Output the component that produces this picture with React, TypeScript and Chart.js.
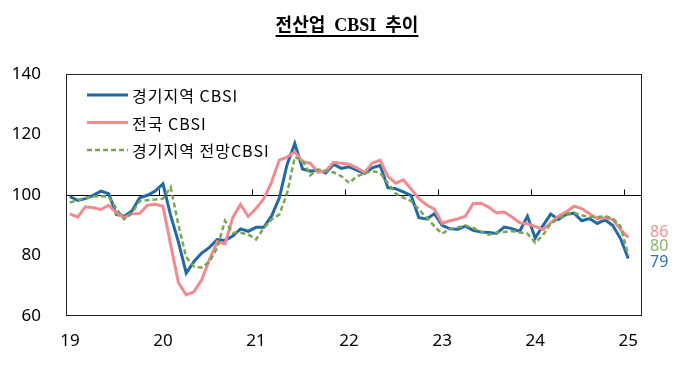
import React, { useEffect, useRef } from "react";
import { Chart, registerables } from "chart.js";

Chart.register(...registerables);

// Year tick labels (one every 12 months, Jan 2019 = index 0)
const yearLabels = ["19", "20", "21", "22", "23", "24", "25"];

// Monthly values, Jan 2019 .. Jan 2025
const gyeonggiCBSI = [
  99.5, 98.2, 98.8, 99.9, 101.3, 100.4, 93.6, 93.0, 94.7, 99.1, 99.9, 101.3,
  103.7, 93.2, 84.4, 74.2, 78.0, 80.8, 82.7, 85.3, 85.0, 86.4, 88.8, 88.0,
  89.3, 89.3, 93.0, 99.0, 110.0, 117.0, 108.6, 107.9, 108.2, 107.3, 110.2, 108.8,
  109.3, 108.2, 107.1, 109.0, 109.8, 102.4, 102.1, 101.0, 99.8, 92.5, 92.1, 93.8,
  90.0, 88.8, 88.7, 89.7, 88.3, 87.8, 87.6, 87.3, 89.4, 88.9, 88.0, 93.0,
  85.8, 89.9, 93.7, 91.9, 93.6, 94.0, 91.5, 92.2, 90.6, 91.8, 89.9, 85.6,
  79.0,
];

const nationalCBSI = [
  93.8, 92.7, 96.1, 95.8, 95.2, 96.6, 94.1, 92.5, 93.8, 93.9, 96.6, 96.9,
  96.3, 83.5, 71.0, 67.0, 68.0, 72.0, 78.7, 84.5, 83.8, 92.5, 96.9, 92.9,
  95.5, 98.8, 104.2, 111.5, 112.5, 114.3, 111.0, 110.5, 107.5, 108.0, 110.8, 110.5,
  110.2, 109.0, 107.4, 110.6, 111.5, 106.2, 103.9, 105.0, 102.0, 98.8, 96.7, 95.3,
  90.7, 91.5, 92.1, 93.0, 97.2, 97.3, 96.0, 94.1, 94.4, 92.7, 90.8, 90.5,
  89.6, 88.6, 90.8, 93.0, 94.4, 96.3, 95.5, 93.8, 92.2, 92.5, 91.9, 88.6,
  86.0,
];

const gyeonggiOutlookCBSI = [
  97.5, 98.3, 99.0, 99.5, 99.6, 99.4, 95.5, 92.0, 94.0, 98.0, 98.3, 98.5,
  98.8, 102.6, 90.0, 79.5, 76.3, 76.0, 78.0, 82.5, 91.5, 87.5, 87.5, 87.0,
  85.3, 89.0, 91.9, 93.5, 100.5, 112.5, 111.5, 106.5, 108.4, 108.0, 107.5, 106.2,
  104.0, 106.2, 107.1, 107.9, 107.3, 104.0, 100.5, 99.1, 98.0, 95.2, 92.5, 89.7,
  87.2, 88.8, 89.3, 89.9, 89.1, 87.9, 86.9, 87.5, 87.8, 88.1, 87.6, 87.2,
  84.2, 86.7, 90.6, 92.2, 93.8, 94.1, 93.3, 92.7, 92.7, 93.0, 92.2, 89.7,
  80.0,
];

const seriesNames = ["경기지역 CBSI", "전국 CBSI", "경기지역 전망CBSI"];
const titleText = "전산업  CBSI  추이";

const BLUE = "#1f69a6";
const PINK = "#f28a90";
const GREEN = "#7aa653";
const LABEL_BLUE = "#2f72ad";
const LABEL_PINK = "#ef8f95";
const LABEL_GREEN = "#8ab468";

const toPoints = (arr: number[]) => arr.map((v, i) => ({ x: i, y: v }));

const framePlugin = {
  id: "frame",
  beforeDatasetsDraw(chart: any) {
    const { ctx, chartArea: a, scales } = chart;
    const y100 = Math.round(scales.y.getPixelForValue(100)) + 0.5;
    ctx.save();
    ctx.strokeStyle = "#000";
    ctx.lineWidth = 1;
    ctx.beginPath();
    ctx.moveTo(a.left, y100);
    ctx.lineTo(a.right, y100);
    for (let k = 1; k < yearLabels.length; k++) {
      const x = Math.round(scales.x.getPixelForValue(k * 12 - 0.5)) + 0.5;
      ctx.moveTo(x, y100);
      ctx.lineTo(x, y100 - 6);
    }
    ctx.stroke();
    ctx.strokeStyle = "#222";
    ctx.strokeRect(a.left + 0.5, a.top + 0.5, a.width - 1, a.height - 1);
    ctx.restore();
  },
  afterDatasetsDraw(chart: any) {
    const { ctx, chartArea: a, scales } = chart;
    ctx.save();
    // Legend
    const rows = [
      { name: seriesNames[0], color: BLUE, dash: [] as number[], w: 3 },
      { name: seriesNames[1], color: PINK, dash: [] as number[], w: 3 },
      { name: seriesNames[2], color: GREEN, dash: [5, 3], w: 2.5 },
    ];
    ctx.font = '16px "Noto Sans CJK KR", "Noto Sans", sans-serif';
    ctx.textBaseline = "middle";
    rows.forEach((r, k) => {
      const y = a.top + 21 + k * 27.5;
      ctx.beginPath();
      ctx.setLineDash(r.dash);
      ctx.strokeStyle = r.color;
      ctx.lineWidth = r.w;
      ctx.moveTo(a.left + 21, y);
      ctx.lineTo(a.left + 62, y);
      ctx.stroke();
      ctx.setLineDash([]);
      ctx.fillStyle = "#000";
      (ctx as any).letterSpacing = "1px";
      ctx.fillText(r.name, a.left + 66, y + 1);
      (ctx as any).letterSpacing = "0px";
    });
    // End labels
    const n = gyeonggiCBSI.length - 1;
    const ends = [
      { v: nationalCBSI[n], color: LABEL_PINK, off: -5 },
      { v: gyeonggiOutlookCBSI[n], color: LABEL_GREEN, off: -9 },
      { v: gyeonggiCBSI[n], color: LABEL_BLUE, off: 4 },
    ];
    ctx.font = '16px "Noto Sans", sans-serif';
    ctx.textAlign = "left";
    ends.forEach((e) => {
      ctx.fillStyle = e.color;
      ctx.fillText(String(Math.round(e.v)), a.right + 8, scales.y.getPixelForValue(e.v) + e.off);
    });
    ctx.restore();
  },
};

export default function App() {
  const ref = useRef<HTMLCanvasElement | null>(null);

  useEffect(() => {
    if (!ref.current) return;
    const chart = new Chart(ref.current, {
      type: "line",
      data: {
        datasets: [
          {
            label: seriesNames[0],
            data: toPoints(gyeonggiCBSI),
            borderColor: BLUE,
            borderWidth: 3,
            pointRadius: 0,
            tension: 0,
            order: 3,
          },
          {
            label: seriesNames[1],
            data: toPoints(nationalCBSI),
            borderColor: PINK,
            borderWidth: 3,
            pointRadius: 0,
            tension: 0,
            order: 2,
          },
          {
            label: seriesNames[2],
            data: toPoints(gyeonggiOutlookCBSI),
            borderColor: GREEN,
            borderWidth: 2.5,
            borderDash: [5, 3],
            pointRadius: 0,
            tension: 0,
            order: 1,
          },
        ],
      },
      options: {
        responsive: false,
        animation: false,
        devicePixelRatio: 1,
        layout: { padding: { top: 74, right: 41, left: 0, bottom: 0 } },
        plugins: {
          legend: { display: false },
          tooltip: { enabled: false },
          title: { display: false },
        },
        scales: {
          x: {
            type: "linear",
            min: -0.5,
            max: 73.77,
            grid: { display: false, drawTicks: false },
            border: { display: false },
            afterFit: (s: any) => {
              s.height = 64;
            },
            afterBuildTicks: (s: any) => {
              s.ticks = yearLabels.map((_, k) => ({ value: k * 12 }));
            },
            ticks: {
              padding: 15,
              maxRotation: 0,
              autoSkip: false,
              color: "#000",
              font: { family: '"Noto Sans", sans-serif', size: 17 },
              callback: (v: any) => yearLabels[Math.round(Number(v) / 12)] ?? "",
            },
          },
          y: {
            min: 60,
            max: 140,
            grid: { display: false, drawTicks: false },
            border: { display: false },
            afterFit: (s: any) => {
              s.width = 66;
            },
            ticks: {
              stepSize: 20,
              padding: 25,
              color: "#000",
              font: { family: '"Noto Sans", sans-serif', size: 17 },
            },
          },
        },
      },
      plugins: [framePlugin],
    });
    return () => chart.destroy();
  }, []);

  return (
    <div style={{ position: "fixed", left: 0, top: 0, width: 683, height: 380, background: "#fff" }}>
      <canvas ref={ref} width={683} height={380} style={{ display: "block" }} />
      <div
        style={{
          position: "absolute",
          left: 0,
          top: 14,
          width: 694,
          textAlign: "center",
          whiteSpace: "pre",
          lineHeight: "22px",
        }}
      >
        <span
          style={{
            fontFamily: '"Liberation Serif", "Noto Sans CJK KR", serif',
            fontWeight: "bold",
            fontSize: 18,
            color: "#000",
            textDecoration: "underline",
            textUnderlineOffset: "4px",
            textDecorationThickness: "1.5px",
          }}
        >
          {titleText}
        </span>
      </div>
    </div>
  );
}
